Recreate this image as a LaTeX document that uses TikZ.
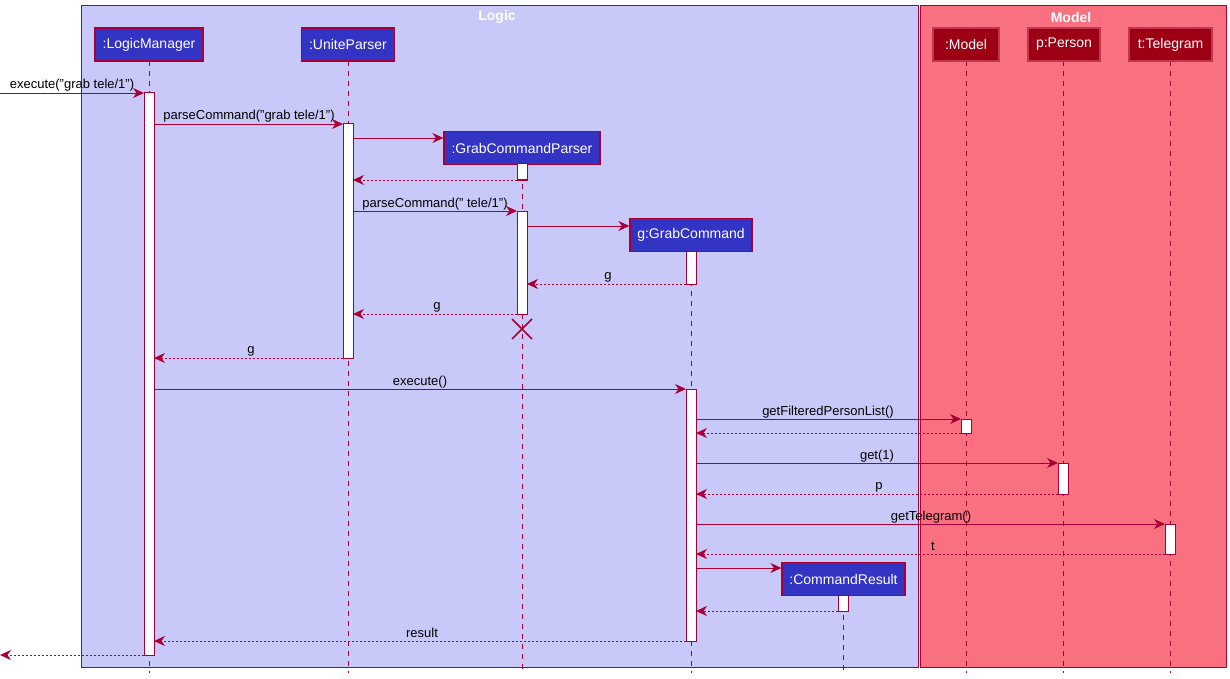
\documentclass[tikz,border=0pt]{standalone}
\usepackage{fontspec}
\setmainfont{Liberation Sans}
\usetikzlibrary{arrows.meta}
\definecolor{pumlred}{HTML}{A80036}
\definecolor{logicbg}{HTML}{C9C9F9}
\definecolor{modelbg}{HTML}{F97181}
\definecolor{logicpart}{HTML}{3333C4}
\definecolor{modelpart}{HTML}{9D0014}
\definecolor{modelline}{HTML}{C03850}
\tikzset{
  grp/.style={draw=pumlred, line width=1pt},
  grptitle/.style={font=\fontsize{14}{16}\selectfont\bfseries, text=white, inner sep=0pt},
  lpart/.style={draw=pumlred, fill=logicpart, text=white, font=\fontsize{14}{16}\selectfont, line width=1.2pt, minimum height=33pt, inner sep=0pt},
  mpart/.style={draw=modelline, fill=modelpart, text=white, font=\fontsize{14}{16}\selectfont, line width=1.2pt, minimum height=33pt, inner sep=0pt},
  life/.style={draw=pumlred, dash pattern=on 5pt off 5pt, line width=0.9pt},
  actbar/.style={draw=pumlred, fill=white, line width=1pt},
  msg/.style={draw=pumlred, line width=0.9pt, -{Stealth[length=11pt,width=10pt,inset=3.5pt]}},
  ret/.style={msg, dash pattern=on 2pt off 2pt},
  lbl/.style={font=\fontsize{13}{15}\selectfont, anchor=base, inner sep=0pt},
}
\begin{document}
\begin{tikzpicture}[x=1pt,y=-1pt]
\useasboundingbox (0,0) rectangle (1230,679);
% groups
\fill[white] (0,0) rectangle (1230,679);
\draw[grp, fill=logicbg] (81,6) rectangle (918,667);
\draw[grp, fill=modelbg] (920,6) rectangle (1226,667);
\node[grptitle] (tlogic) at (497,17) {Logic};
\node[grptitle] (tmodel) at (1071,17) {Model};
% lifelines
\draw[life] (149,61) -- (149,673);
\draw[life] (348,61) -- (348,673);
\draw[life] (522,164) -- (522,673);
\draw[life] (691,251) -- (691,673);
\draw[life] (843,595) -- (843,673);
\draw[life] (966,61) -- (966,673);
\draw[life] (1063,61) -- (1063,673);
\draw[life] (1170,61) -- (1170,673);
% participants
\node[lpart, minimum width=108pt] (lm) at (149,44.5) {:LogicManager};
\node[lpart, minimum width=93pt] (up) at (348,44.5) {:UniteParser};
\node[lpart, minimum width=156pt] (gcp) at (522,148) {:GrabCommandParser};
\node[lpart, minimum width=122pt] (gc) at (691,235) {g:GrabCommand};
\node[lpart, minimum width=123pt] (cr) at (843.5,579) {:CommandResult};
\node[mpart, minimum width=66pt] (mo) at (966,44.5) {:Model};
\node[mpart, minimum width=72pt] (pe) at (1064,44.5) {p:Person};
\node[mpart, minimum width=83pt] (te) at (1170.5,44.5) {t:Telegram};
% activation bars
\draw[actbar] (144,93) rectangle (154,655);
\draw[actbar] (343,124) rectangle (353,358);
\draw[actbar] (517,164) rectangle (527,180);
\draw[actbar] (517,211) rectangle (527,314);
\draw[actbar] (686,251) rectangle (696,284);
\draw[actbar] (686,389) rectangle (696,641);
\draw[actbar] (961,419) rectangle (971,433);
\draw[actbar] (1058,463) rectangle (1068,494);
\draw[actbar] (1165,524) rectangle (1175,554);
\draw[actbar] (838,595) rectangle (848,611);
% named endpoints
\coordinate (in) at (0,93);
\coordinate (out) at (0,655);
% messages
\draw[msg] (in) -- (144,93);
\node[lbl] (l1) at (72,89) {execute("grab tele/1")};
\draw[msg] (154,124) -- (343,124);
\node[lbl] (l2) at (249,120) {parseCommand("grab tele/1")};
\draw[msg] (353,138) -- (gcp.west |- 0,138);
\draw[ret] (517,180) -- (353,180);
\draw[msg] (353,211) -- (517,211);
\node[lbl] (l3) at (435,207) {parseCommand(" tele/1")};
\draw[msg] (527,226) -- (gc.west |- 0,226);
\draw[ret] (686,284) -- (527,284);
\node[lbl] (l4) at (608,279) {g};
\draw[ret] (517,314) -- (353,314);
\node[lbl] (l5) at (437,309) {g};
% destroy
\draw[draw=pumlred, line width=1.6pt] (512,319) -- (532,339) (532,319) -- (512,339);
\draw[ret] (343,358) -- (154,358);
\node[lbl] (l6) at (251,353) {g};
\draw[msg] (154,389) -- (686,389);
\node[lbl] (l7) at (420,385) {execute()};
\draw[msg] (696,419) -- (961,419);
\node[lbl] (l8) at (828,415) {getFilteredPersonList()};
\draw[ret] (961,433) -- (696,433);
\draw[msg] (696,463) -- (1058,463);
\node[lbl] (l9) at (877,459) {get(1)};
\draw[ret] (1058,494) -- (696,494);
\node[lbl] (l10) at (879,489) {p};
\draw[msg] (696,524) -- (1165,524);
\node[lbl] (l11) at (931,520) {getTelegram()};
\draw[ret] (1165,554) -- (696,554);
\node[lbl] (l12) at (933,550) {t};
\draw[msg] (696,568) -- (cr.west |- 0,568);
\draw[ret] (838,611) -- (696,611);
\draw[ret] (686,641) -- (154,641);
\node[lbl] (l13) at (422,637) {result};
\draw[ret] (144,655) -- (out);
\end{tikzpicture}
\end{document}
